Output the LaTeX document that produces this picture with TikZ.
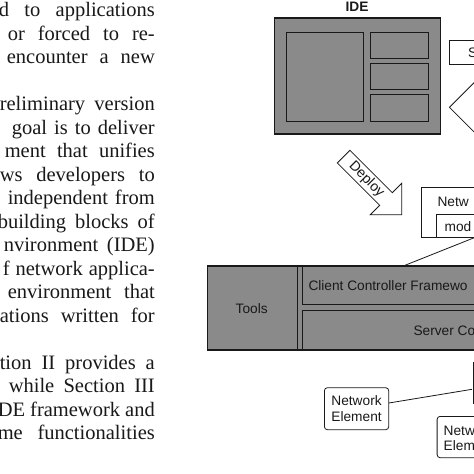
\documentclass[tikz,border=0pt]{standalone}
\usepackage{fontspec}
\setmainfont{Liberation Serif}
\newfontfamily\hv{Liberation Sans}
\usetikzlibrary{shapes.geometric}
\definecolor{boxgray}{RGB}{138,138,138}
\definecolor{ink}{RGB}{25,25,25}
\newcommand\jline[2]{\makebox[#1][s]{\spaceskip=.25em plus 1em minus .15em #2}}
\tikzset{
 body/.style={font=\fontsize{20.5}{23.5}\selectfont, text=ink, inner sep=0pt, anchor=base east},
 gbox/.style={draw=ink, fill=boxgray, line width=1.3pt, inner sep=0pt, anchor=north west},
 gpane/.style={draw=ink, fill=boxgray, line width=1pt, inner sep=0pt, anchor=north west},
 wbox/.style={draw=ink, fill=white, line width=0.8pt, inner sep=0pt, anchor=north west},
 nebox/.style={draw=ink, fill=white, line width=0.8pt, rounded corners=3pt, inner sep=0pt, anchor=north west},
 lbl/.style={font=\hv\fontsize{13.7}{15.7}\selectfont, text=ink, inner sep=0pt},
 conn/.style={draw=ink, line width=0.8pt},
}
\begin{document}
\begin{tikzpicture}[x=1pt,y=-1pt]
\useasboundingbox (0,0) rectangle (474,474);
\fill[white] (0,0) rectangle (474,474);
\clip (0,0) rectangle (474,474);
% body text column
\node[body] (t0) at (155,16.7) {\jline{156pt}{d to applications}};
\node[body] (t1) at (155,40.2) {\jline{147pt}{or forced to re-}};
\node[body] (t2) at (155,63.7) {\jline{148pt}{encounter a new}};
\node[body] (t4) at (155,110.7) {\jline{155pt}{reliminary version}};
\node[body] (t5) at (155,134.2) {\jline{143pt}{goal is to deliver}};
\node[body] (t6) at (155,157.7) {\jline{150pt}{ment that unifies}};
\node[body] (t7) at (155,181.2) {\jline{155pt}{ws developers to}};
\node[body] (t8) at (155,204.7) {\jline{147pt}{independent from}};
\node[body] (t9) at (155,228.2) {\jline{157pt}{building blocks of}};
\node[body] (t10) at (155,251.7) {\jline{151pt}{nvironment (IDE)}};
\node[body] (t11) at (155,275.2) {\jline{152pt}{f network applica-}};
\node[body] (t12) at (155,298.7) {\jline{147pt}{environment that}};
\node[body] (t13) at (155,322.2) {\jline{155pt}{ations written for}};
\node[body] (t15) at (155,369.2) {\jline{155pt}{tion II provides a}};
\node[body] (t16) at (155,392.7) {\jline{146pt}{while Section III}};
\node[body] (t17) at (155,416.2) {\jline{157pt}{DE framework and}};
\node[body] (t18) at (155,439.7) {\jline{157pt}{me functionalities}};
% IDE
\node[lbl, font=\hv\bfseries\fontsize{13.7}{15}\selectfont, anchor=base] (idelbl) at (357,11) {IDE};
\node[gbox, minimum width=166pt, minimum height=116pt] (ide) at (274,17.3) {};
\node[gpane, minimum width=77pt, minimum height=88.7pt] (edit) at (285.7,32) {};
\node[gpane, minimum width=58pt, minimum height=26.3pt] (p1) at (370,32) {};
\node[gpane, minimum width=58pt, minimum height=26pt] (p2) at (370,63.3) {};
\node[gpane, minimum width=58pt, minimum height=26.4pt] (p3) at (370,94.3) {};
% right-hand cut shapes
\node[wbox, minimum width=60pt, minimum height=24pt] (sbox) at (449.3,40) {};
\node[lbl, anchor=west] (stxt) at (468,52.3) {S};
\node[diamond, draw=ink, line width=0.8pt, fill=white, minimum width=82pt, minimum height=82pt, inner sep=0pt] (dia) at (490.3,107.3) {};
% Deploy arrow
\path[draw=ink, line width=0.8pt, fill=white] (337.3,162.9) -- (349.9,150.3) -- (392.3,192.7) -- (401.8,183.2) -- (401.8,214.8) -- (370.2,214.8) -- (379.7,205.3) -- cycle;
\node[lbl, font=\hv\fontsize{14}{16}\selectfont, rotate=-45] (deploy) at (366.5,179.5) {Deploy};
% network box
\node[wbox, minimum width=80pt, minimum height=50.3pt] (netw) at (420.7,186.7) {};
\node[wbox, minimum width=60pt, minimum height=23pt] (mod) at (435.7,214) {};
\node[lbl, anchor=base west] (netwtxt) at (437.3,206) {Netw};
\node[lbl, anchor=base west] (modtxt) at (444.5,231.3) {mod};
% framework block
\node[gbox, minimum width=320pt, minimum height=83.3pt] (fw) at (207.3,265.7) {};
\node[gpane, minimum width=89.4pt, minimum height=83.3pt] (tools) at (207.3,265.7) {};
\node[gpane, minimum width=220pt, minimum height=38.6pt] (ccf) at (301.7,265.7) {};
\node[gpane, minimum width=220pt, minimum height=39pt] (scf) at (301.7,310) {};
\draw[ink, line width=1.3pt] (fw.north west) rectangle (fw.south east);
\node[lbl, anchor=base] (toolstxt) at (251.7,313.3) {Tools};
\node[lbl, anchor=base west] (ccftxt) at (308.3,290.7) {Client Controller Framewo};
\node[lbl, anchor=base west] (scftxt) at (413.3,335) {Server Co};
\coordinate (modout) at (476,237);
\coordinate (fwin) at (404,265.7);
\draw[conn] (modout) -- (fwin);
% network elements
\node[nebox, lbl, minimum width=64.3pt, minimum height=42pt, align=center] (ne1) at (324,387.3) {Network\\Element};
\node[nebox, minimum width=64.3pt, minimum height=41.3pt] (ne2) at (436.7,416) {};
\node[lbl, anchor=base west] (ne2a) at (443.5,435) {Netw};
\node[lbl, anchor=base west] (ne2b) at (443.5,450.7) {Elem};
\node[draw=ink, line width=2pt, fill=white, anchor=north west, minimum width=50pt, minimum height=40pt, inner sep=0pt] (sw) at (473,361.7) {};
\coordinate (swin) at (472,389.3);
\draw[conn] (ne1.10) -- (swin);
\end{tikzpicture}
\end{document}
